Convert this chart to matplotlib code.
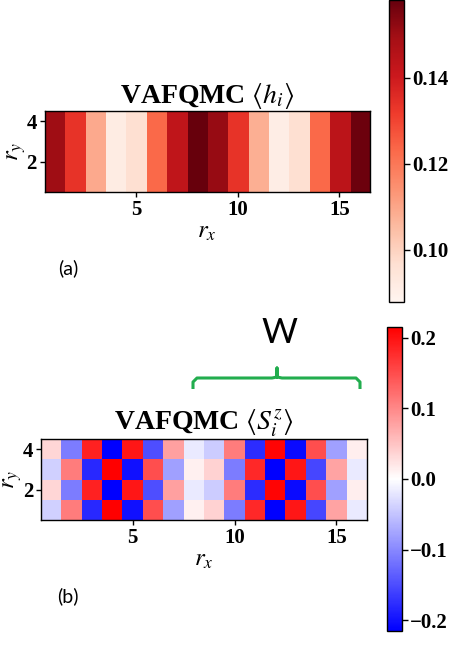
import numpy as np
import matplotlib
matplotlib.use('Agg')
import matplotlib.pyplot as plt
from matplotlib.lines import Line2D

# ---------------- data ----------------
rx = list(range(1, 17))
ry = list(range(1, 5))

# <h_i> : uniform along r_y (stripes), one value per r_x column
h_values = [0.150, 0.1335, 0.109, 0.0915, 0.0965, 0.123, 0.143, 0.158,
            0.151, 0.1335, 0.108, 0.091, 0.0965, 0.123, 0.144, 0.157]

# <S_i^z> rows, r_y = 1 .. 4
sz_row1 = [-0.040, 0.110, -0.180, 0.215, -0.200, 0.148, -0.080, 0.013,
           0.038, -0.110, 0.180, -0.215, 0.195, -0.155, 0.076, -0.018]
sz_row2 = [0.035, -0.110, 0.185, -0.215, 0.195, -0.148, 0.080, -0.017,
           -0.042, 0.110, -0.177, 0.210, -0.205, 0.148, -0.080, 0.015]
sz_row3 = [-0.040, 0.110, -0.180, 0.215, -0.200, 0.148, -0.080, 0.013,
           0.038, -0.110, 0.180, -0.215, 0.195, -0.155, 0.076, -0.018]
sz_row4 = [0.035, -0.110, 0.185, -0.215, 0.195, -0.148, 0.080, -0.017,
           -0.042, 0.110, -0.177, 0.210, -0.205, 0.148, -0.080, 0.015]

xticks = [5, 10, 15]
yticks = [2, 4]
h_cbar_ticks = [0.10, 0.12, 0.14]
sz_cbar_ticks = [-0.2, -0.1, 0.0, 0.1, 0.2]
h_range = (0.0879, 0.158)
sz_range = (-0.215, 0.215)

# ---------------- style ----------------
plt.rcParams['font.family'] = ['Liberation Serif', 'DejaVu Serif']
plt.rcParams['font.weight'] = 'normal'
plt.rcParams['mathtext.fontset'] = 'stix'

W, H = 474, 655
fig = plt.figure(figsize=(W / 100, H / 100), dpi=100)


def fig_rect(x0, y0, x1, y1):
    """pixel box (top-left origin) -> figure fraction rect"""
    return [x0 / W, 1 - y1 / H, (x1 - x0) / W, (y1 - y0) / H]


h_grid = np.array([h_values for _ in ry])
sz_grid = np.array([sz_row1, sz_row2, sz_row3, sz_row4])
extent = (rx[0] - 0.5, rx[-1] + 0.5, ry[0] - 0.5, ry[-1] + 0.5)


def style_axes(ax, title):
    ax.set_xticks(xticks)
    ax.set_yticks(yticks)
    ax.set_xticklabels([str(t) for t in xticks], fontsize=15, fontweight='bold')
    ax.set_yticklabels([str(t) for t in yticks], fontsize=15, fontweight='bold')
    ax.tick_params(length=3.5, width=1, direction='out', pad=2)
    ax.set_xlabel(r'$r_x$', fontsize=18, labelpad=1)
    ax.set_ylabel(r'$r_y$', fontsize=18, labelpad=-1)
    ax.set_title(title, fontsize=20, fontweight='bold', pad=6)
    for s in ax.spines.values():
        s.set_linewidth(1.0)


# ---- (a) <h_i> ----
ax1 = fig.add_axes(fig_rect(44.5, 111, 370, 192))
im1 = ax1.imshow(h_grid, cmap='Reds', vmin=h_range[0], vmax=h_range[1],
                 origin='lower', extent=extent, aspect='auto',
                 interpolation='nearest')
style_axes(ax1, r'VAFQMC $\langle h_i\rangle$')

cax1 = fig.add_axes(fig_rect(389, 0, 404, 302))
cb1 = fig.colorbar(im1, cax=cax1, ticks=h_cbar_ticks)
cb1.ax.set_yticklabels([f'{t:.2f}' for t in h_cbar_ticks],
                       fontsize=15, fontweight='bold')
cb1.ax.tick_params(length=4, width=1, pad=2)
cb1.outline.set_linewidth(1.0)

# ---- (b) <S_i^z> ----
ax2 = fig.add_axes(fig_rect(41, 439, 367, 520))
im2 = ax2.imshow(sz_grid, cmap='bwr', vmin=sz_range[0], vmax=sz_range[1],
                 origin='lower', extent=extent, aspect='auto',
                 interpolation='nearest')
style_axes(ax2, r'VAFQMC $\langle S_i^z\rangle$')

cax2 = fig.add_axes(fig_rect(387, 327, 402, 631))
cb2 = fig.colorbar(im2, cax=cax2, ticks=sz_cbar_ticks)
cb2.ax.set_yticklabels(['\u22120.2', '\u22120.1', '0.0', '0.1', '0.2'],
                       fontsize=15, fontweight='bold')
cb2.ax.tick_params(length=4, width=1, pad=2)
cb2.outline.set_linewidth(1.0)

# ---- panel labels and W bracket ----
fig.text(68 / W, 1 - 268 / H, '(a)', fontsize=14, family=['Lato', 'DejaVu Sans'],
         fontweight='normal', ha='center', va='center')
fig.text(68 / W, 1 - 596 / H, '(b)', fontsize=14, family=['Lato', 'DejaVu Sans'],
         fontweight='normal', ha='center', va='center')
fig.text(279 / W, 1 - 333 / H, 'W', fontsize=25, family=['Lato', 'DejaVu Sans'],
         fontweight='normal', ha='center', va='center')

green = '#22ad4e'
bx = [193, 193, 197, 272, 277, 277, 277, 282, 356, 360, 360]
by = [389, 382, 378, 378, 377, 368, 377, 378, 378, 382, 389]
fig.add_artist(Line2D([x / W for x in bx], [1 - y / H for y in by],
                      transform=fig.transFigure, color=green, lw=2.2,
                      solid_joinstyle='round', solid_capstyle='butt'))

fig.savefig('out.png', dpi=100)
